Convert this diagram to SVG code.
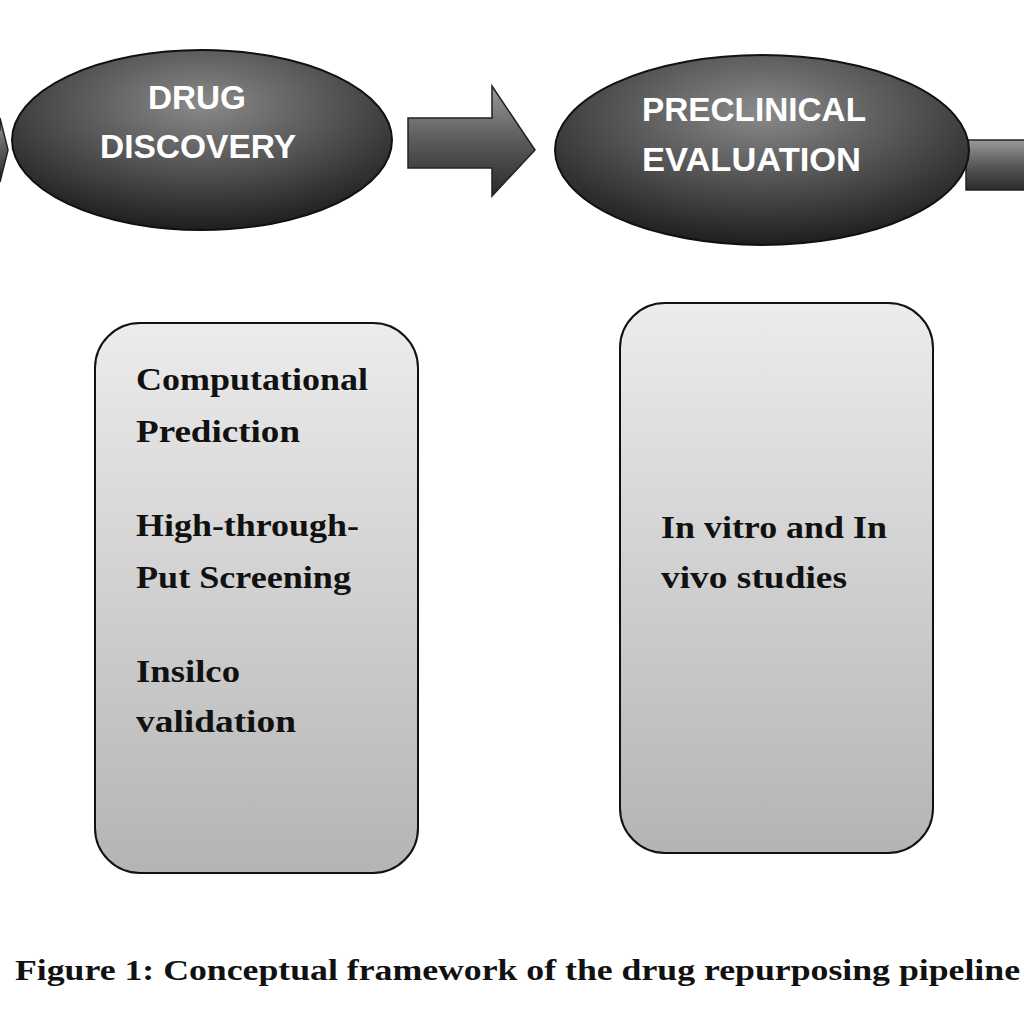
<svg xmlns="http://www.w3.org/2000/svg" width="1024" height="1024" viewBox="0 0 1024 1024">
<defs>
<radialGradient id="eg" cx="0.5" cy="0.3" r="0.7"><stop offset="0" stop-color="#8a8a8a"/><stop offset="0.6" stop-color="#4a4a4a"/><stop offset="1" stop-color="#1e1e1e"/></radialGradient>
<linearGradient id="ag" x1="0" y1="0" x2="0" y2="1"><stop offset="0" stop-color="#9a9a9a"/><stop offset="0.5" stop-color="#5a5a5a"/><stop offset="1" stop-color="#2a2a2a"/></linearGradient>
<linearGradient id="bg" x1="0" y1="0" x2="0" y2="1"><stop offset="0" stop-color="#ececec"/><stop offset="1" stop-color="#b4b4b4"/></linearGradient>
<style>
.ell{fill:url(#eg);stroke:#111;stroke-width:2}
.arr{fill:url(#ag);stroke:#222;stroke-width:1.5}
.box{fill:url(#bg);stroke:#111;stroke-width:2}
.et{font-family:"Liberation Sans",Arial,sans-serif;font-weight:bold;font-size:33px;fill:#fff}
.bt{font-family:"Liberation Serif",serif;font-weight:bold;font-size:31px;fill:#111}
.cap{font-family:"Liberation Serif",serif;font-weight:bold;font-size:29px;fill:#111}
</style>
</defs>
<g id="connectors">
<path class="arr" d="M-20,130 L0,130 L0,118 L8,150 L0,182 L0,170 L-20,170Z"/>
<path class="arr" d="M408,118 L492,118 L492,86 L535,150 L492,196 L492,168 L408,168Z"/>
<path class="arr" d="M966,140 L1030,140 L1030,190 L966,190Z"/>
</g>
<g id="drug-discovery">
<ellipse class="ell" cx="202" cy="140" rx="190" ry="90"/>
<text class="et" x="148" y="109" textLength="98" lengthAdjust="spacingAndGlyphs">DRUG</text>
<text class="et" x="100" y="158" textLength="196" lengthAdjust="spacingAndGlyphs">DISCOVERY</text>
</g>
<g id="preclinical">
<ellipse class="ell" cx="762" cy="150" rx="207" ry="95"/>
<text class="et" x="642" y="121" textLength="224" lengthAdjust="spacingAndGlyphs">PRECLINICAL</text>
<text class="et" x="642" y="171" textLength="219" lengthAdjust="spacingAndGlyphs">EVALUATION</text>
</g>
<g id="box1">
<rect class="box" x="95" y="323" width="323" height="550" rx="45"/>
<text class="bt" x="136" y="390" textLength="232" lengthAdjust="spacingAndGlyphs">Computational</text>
<text class="bt" x="136" y="442" textLength="164" lengthAdjust="spacingAndGlyphs">Prediction</text>
<text class="bt" x="136" y="536" textLength="223" lengthAdjust="spacingAndGlyphs">High-through-</text>
<text class="bt" x="136" y="588" textLength="215" lengthAdjust="spacingAndGlyphs">Put Screening</text>
<text class="bt" x="136" y="682" textLength="104" lengthAdjust="spacingAndGlyphs">Insilco</text>
<text class="bt" x="136" y="732" textLength="160" lengthAdjust="spacingAndGlyphs">validation</text>
</g>
<g id="box2">
<rect class="box" x="620" y="303" width="313" height="550" rx="45"/>
<text class="bt" x="661" y="538" textLength="226" lengthAdjust="spacingAndGlyphs">In vitro and In</text>
<text class="bt" x="661" y="588" textLength="186" lengthAdjust="spacingAndGlyphs">vivo studies</text>
</g>
<text class="cap" x="15" y="980" textLength="1005" lengthAdjust="spacingAndGlyphs">Figure 1: Conceptual framework of the drug repurposing pipeline</text>
</svg>
